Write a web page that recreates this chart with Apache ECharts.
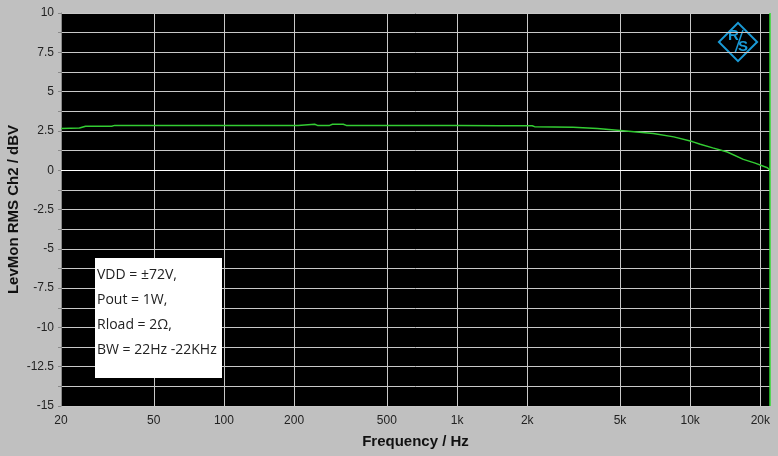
<!DOCTYPE html>
<html><head><meta charset="utf-8">
<script src="https://cdn.jsdelivr.net/npm/echarts@6/dist/echarts.min.js"></script>
<style>html,body{margin:0;padding:0;background:#c0c0c0;}#c{width:778px;height:456px;}</style>
</head><body><div id="c"></div>
<script>
const freqHz = [20, 24, 25.5, 33, 34, 60, 100, 208, 212, 245, 252, 284, 292, 325, 335, 500, 1000, 1531, 2100, 2150, 3148, 4000, 5010, 6950, 8500, 10210, 11050, 12500, 14430, 16910, 19000, 21430, 22000];
const levelDbv = [2.65, 2.68, 2.8, 2.8, 2.85, 2.85, 2.85, 2.85, 2.92, 2.92, 2.85, 2.85, 2.92, 2.92, 2.85, 2.85, 2.85, 2.83, 2.83, 2.77, 2.74, 2.65, 2.52, 2.33, 2.12, 1.82, 1.65, 1.42, 1.16, 0.69, 0.45, 0.16, 0.0];
const xTicks = [20, 50, 100, 200, 500, 1000, 2000, 5000, 10000, 20000];
const yTicks = [-15, -12.5, -10, -7.5, -5, -2.5, 0, 2.5, 5, 7.5, 10];
const noteLines = ['VDD = \u00b172V,', 'Pout = 1W,', 'Rload = 2\u03a9,', 'BW = 22Hz -22KHz'];

const chart = echarts.init(document.getElementById('c'), null, {renderer: 'canvas'});
const fmtX = v => v >= 1000 ? (v / 1000) + 'k' : String(v);
const font = 'Liberation Sans, Arial, sans-serif';
chart.setOption({
  backgroundColor: '#c0c0c0',
  animation: false,
  grid: {left: 61, top: 13, right: 8, bottom: 50, show: true, backgroundColor: '#000', borderWidth: 0,
    containLabel: false, outerBoundsMode: 'none'},
  xAxis: {
    type: 'log', logBase: 10, min: 20, max: 22000,
    name: 'Frequency / Hz', nameLocation: 'middle', nameGap: 28,
    nameTextStyle: {fontFamily: font, fontSize: 15, fontWeight: 'bold', color: '#111'},
    axisLine: {show: true, lineStyle: {color: '#ffffff', width: 1}},
    axisTick: {show: false, customValues: xTicks},
    axisLabel: {customValues: xTicks, formatter: fmtX, fontFamily: font, fontSize: 12, color: '#222', margin: 9},
    splitLine: {show: true, lineStyle: {color: '#c8c8c8', width: 1}},
    minorSplitLine: {show: false}
  },
  yAxis: {
    type: 'value', min: -15, max: 10, interval: 1.25,
    name: 'LevMon RMS Ch2 / dBV', nameLocation: 'middle', nameGap: 40, nameRotate: 90, nameMoveOverlap: false,
    nameTextStyle: {fontFamily: font, fontSize: 15, fontWeight: 'bold', color: '#111'},
    axisLine: {show: true, lineStyle: {color: '#888', width: 1}},
    axisTick: {show: true, inside: false, length: 3, lineStyle: {color: '#888'}},
    axisLabel: {interval: 1, fontFamily: font, fontSize: 12, color: '#222', margin: 7,
      formatter: v => yTicks.indexOf(v) >= 0 ? String(v) : ''},
    splitLine: {show: true, lineStyle: {color: '#c8c8c8', width: 1}}
  },
  series: [{
    type: 'line', showSymbol: false, symbol: 'none',
    data: freqHz.map((f, i) => [f, levelDbv[i]]),
    lineStyle: {color: '#33cc33', width: 1.5},
    markLine: {
      silent: true, symbol: 'none', label: {show: false},
      lineStyle: {color: '#33dd33', width: 1.5, type: 'solid'},
      data: [{xAxis: 22000}]
    }
  }],
  graphic: [
    {type: 'rect', z: 100, left: 95, top: 258, shape: {width: 127, height: 120}, style: {fill: '#ffffff'}},
    ...noteLines.map((t, i) => ({
      type: 'text', z: 101, left: 97, top: 268 + i * 25,
      style: {text: t, fill: '#222', font: '14px "Open Sans", sans-serif'}
    })),
    {type: 'group', z: 100, x: 738, y: 42, children: [
      {type: 'rect', rotation: Math.PI / 4, shape: {x: -13.5, y: -13.5, width: 27, height: 27},
        style: {fill: 'none', stroke: '#1a9ad6', lineWidth: 2}},
      {type: 'text', x: -10, y: -14, style: {text: 'R', fill: '#1a9ad6', font: 'bold 15px "Liberation Sans", sans-serif'}},
      {type: 'text', x: 0, y: -3, style: {text: 'S', fill: '#1a9ad6', font: 'bold 15px "Liberation Sans", sans-serif'}},
      {type: 'line', shape: {x1: 5, y1: -12, x2: -3, y2: 11}, style: {stroke: '#1a9ad6', lineWidth: 1.5}}
    ]}
  ]
});
</script>
</body></html>
